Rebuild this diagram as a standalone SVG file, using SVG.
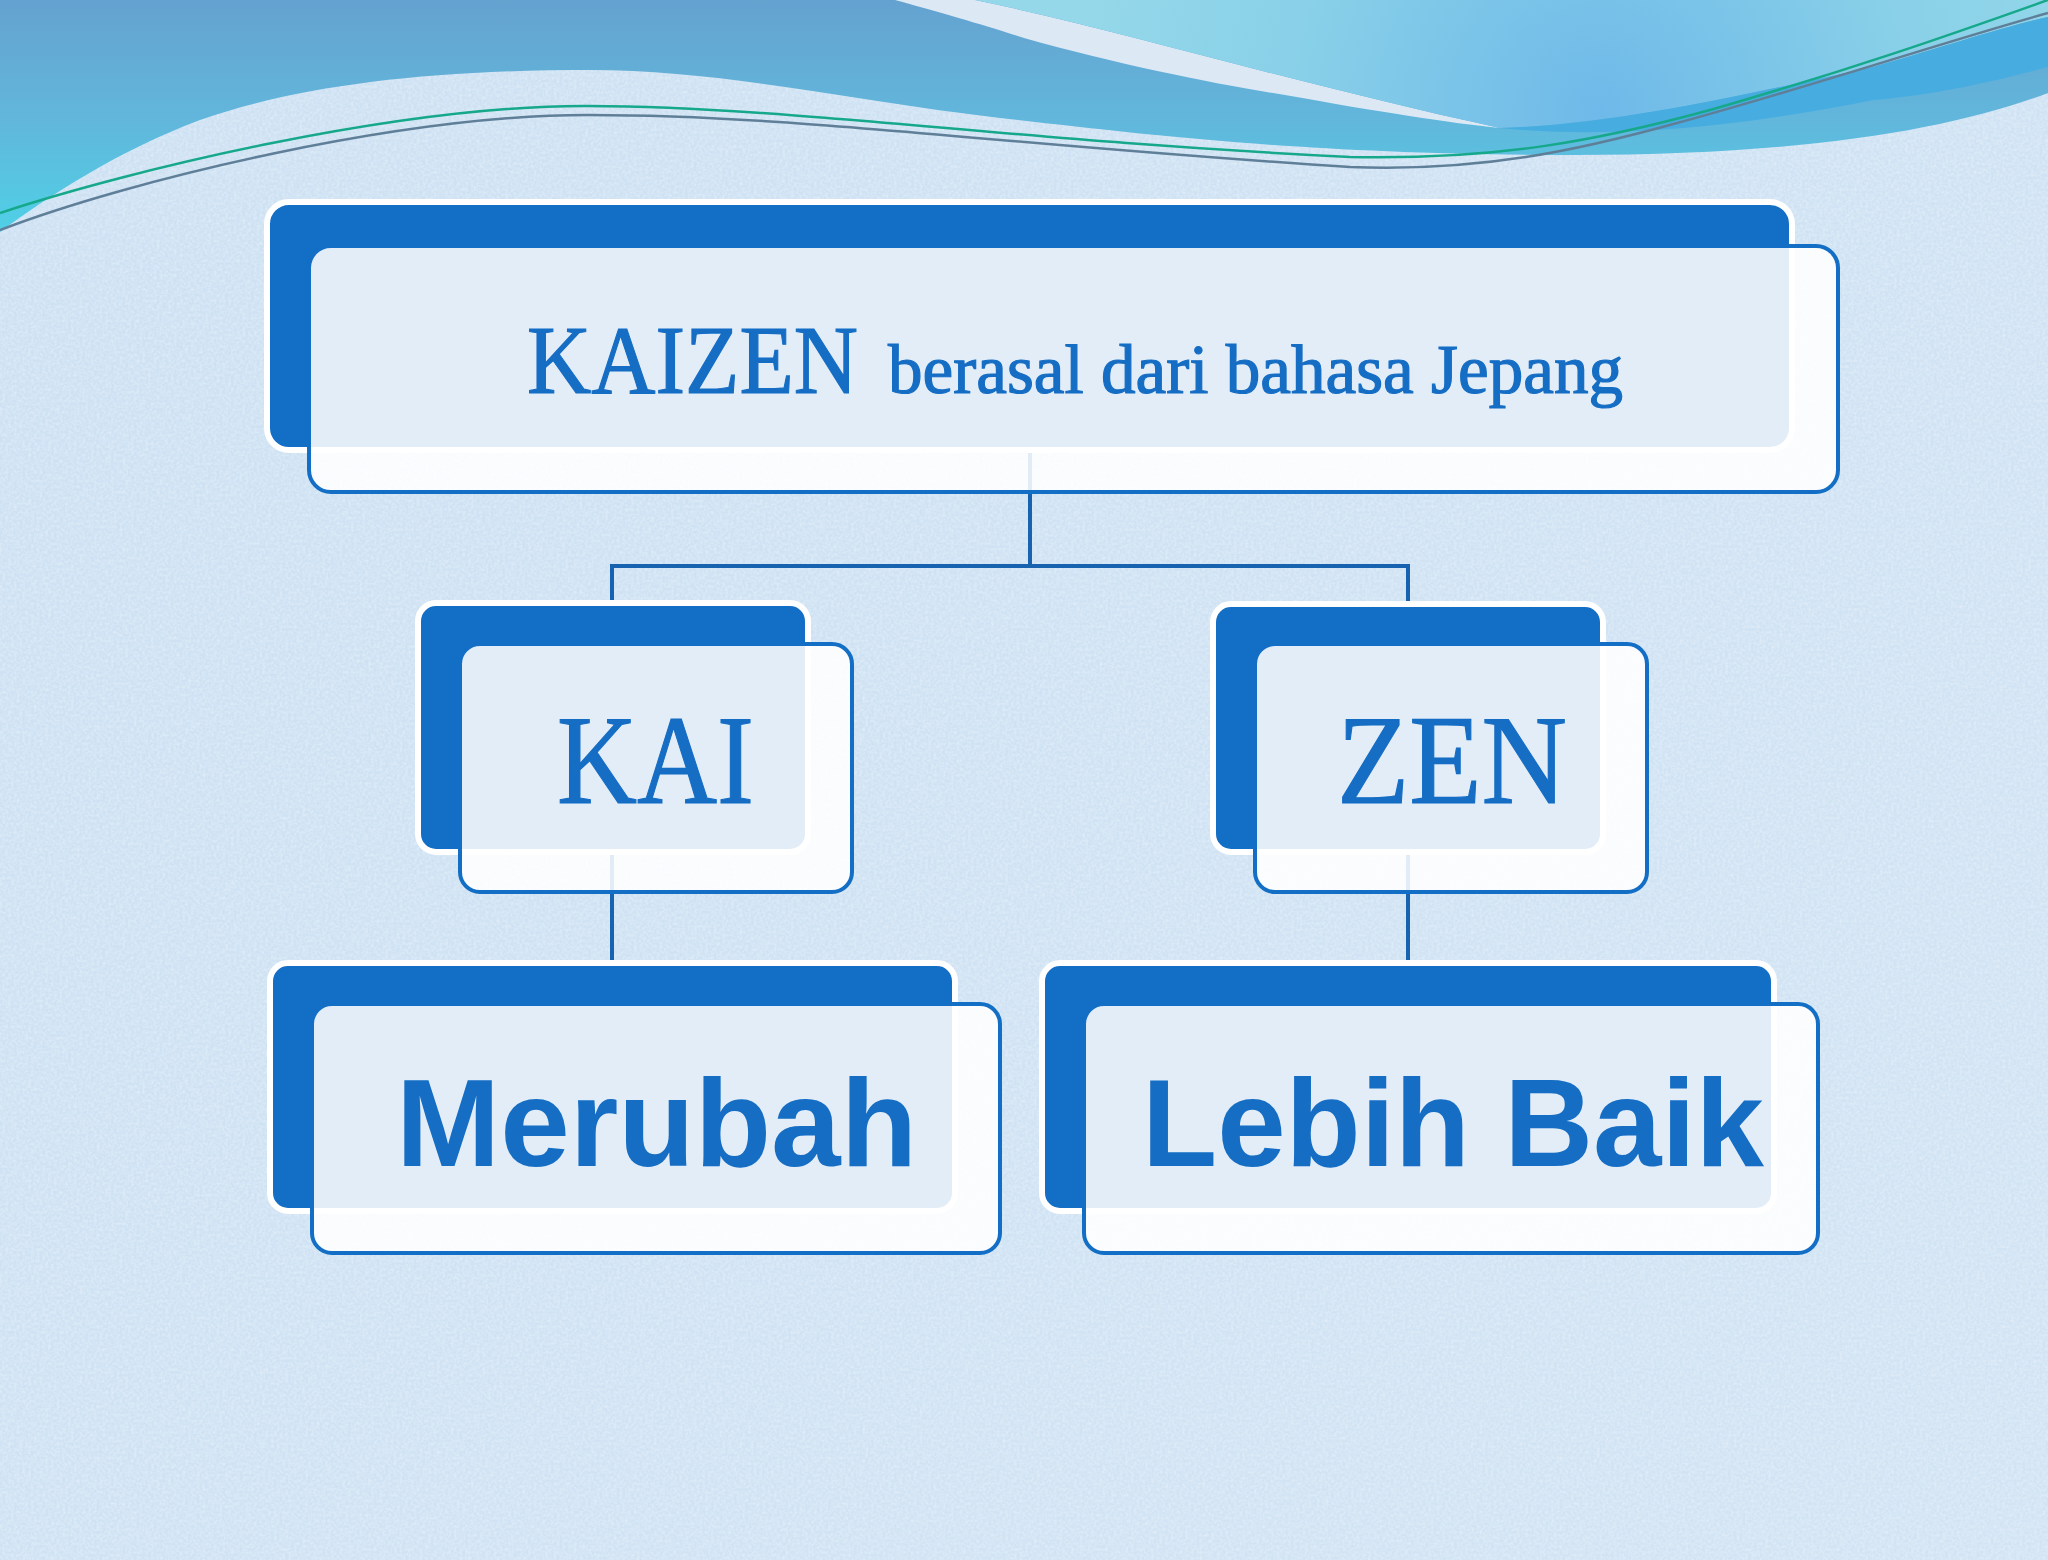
<svg xmlns="http://www.w3.org/2000/svg" width="2048" height="1560" viewBox="0 0 2048 1560">
  <defs>
    <linearGradient id="bgGrad" x1="0" y1="0" x2="1" y2="1">
      <stop offset="0" stop-color="#cde1f3"/>
      <stop offset="1" stop-color="#d2e4f4"/>
    </linearGradient>
    <linearGradient id="waveA" x1="0" y1="0" x2="0" y2="232" gradientUnits="userSpaceOnUse">
      <stop offset="0" stop-color="#64a2d0"/>
      <stop offset="0.5" stop-color="#62b6db"/>
      <stop offset="1" stop-color="#4fd0e6"/>
    </linearGradient>
    <radialGradient id="waveB" cx="1600" cy="110" r="520" gradientUnits="userSpaceOnUse">
      <stop offset="0" stop-color="#6eb9e9"/>
      <stop offset="0.6" stop-color="#89d0e8"/>
      <stop offset="1" stop-color="#94d8e9"/>
    </radialGradient>
    <filter id="noise" x="0" y="0" width="100%" height="100%">
      <feTurbulence type="fractalNoise" baseFrequency="0.35" numOctaves="2" seed="4" result="n"/>
      <feColorMatrix in="n" type="matrix" values="0 0 0 0 1  0 0 0 0 1  0 0 0 0 1  0 0 0 -1.6 1.05" />
    </filter>
    <style>
      .back { fill: #136ec5; stroke: #ffffff; stroke-width: 6; }
      .front { fill: #ffffff; fill-opacity: 0.88; stroke: #136ec5; stroke-width: 4; }
      .conn { fill: none; stroke: #1763b0; stroke-width: 4; }
      .serif { font-family: "Liberation Serif", "Times New Roman", serif; fill: #156dc4; stroke: #156dc4; stroke-width: 1.2; }
      .sans { font-family: "Liberation Sans", Arial, sans-serif; font-weight: bold; fill: #156dc4; }
    </style>
  </defs>

  <!-- background -->
  <rect x="0" y="0" width="2048" height="1560" fill="url(#bgGrad)"/>
  <rect x="0" y="0" width="2048" height="1560" filter="url(#noise)" opacity="0.4"/>

  <!-- top waves -->
  <path d="M0,0 H2048 V93 C1950,130 1800,156 1560,155 C1300,154 1150,135 1000,118 C850,100 720,70 590,70 C430,70 300,85 200,120 C120,150 50,195 0,232 Z" fill="url(#waveA)"/>
  <path d="M895,0 C950,15 1000,30 1024,38 C1120,65 1220,85 1285,95 C1380,112 1450,123 1500,128 C1300,85 1120,30 975,0 Z" fill="#dce9f5"/>
  <path d="M975,0 C1120,30 1300,85 1500,128 C1600,125 1700,105 1873,67 C1950,45 2000,28 2048,17 V0 Z" fill="url(#waveB)"/>
  <path d="M1500,128 C1600,125 1700,105 1873,67 C1950,45 2000,28 2048,17 V67 C1980,85 1930,95 1873,100 C1750,125 1620,140 1500,128 Z" fill="#47ade0"/>
  <path d="M0,213 C130,170 400,105 588,106 C800,107 1000,140 1350,157 C1500,160 1600,140 1710,110 C1850,70 1950,35 2048,0" fill="none" stroke="#16a88a" stroke-width="2.5"/>
  <path d="M0,230 C130,180 400,115 588,115 C800,115 1000,145 1350,167 C1480,172 1580,150 1677,123 C1800,90 1950,40 2048,13" fill="none" stroke="#5f7f99" stroke-width="2.5"/>

  <!-- connectors -->
  <g id="connectors">
    <path class="conn" d="M1030,447 V566"/>
    <path class="conn" d="M612,606 V566 H1408 V606"/>
    <path class="conn" d="M612,849 V966"/>
    <path class="conn" d="M1408,849 V966"/>
  </g>

  <!-- nodes -->
  <g id="node-kaizen">
    <rect class="back" x="267" y="202" width="1525" height="248" rx="22"/>
    <rect class="front" x="309" y="246" width="1529" height="246" rx="22"/>
    <text class="serif" y="393"><tspan x="527" font-size="98" textLength="331" lengthAdjust="spacingAndGlyphs">KAIZEN</tspan><tspan x="888" font-size="69" textLength="735" lengthAdjust="spacingAndGlyphs">berasal dari bahasa Jepang</tspan></text>
  </g>

  <g id="node-kai">
    <rect class="back" x="418" y="603" width="390" height="249" rx="18"/>
    <rect class="front" x="460" y="644" width="392" height="248" rx="20"/>
    <text class="serif" x="557" y="803" font-size="128" textLength="197" lengthAdjust="spacingAndGlyphs">KAI</text>
  </g>

  <g id="node-zen">
    <rect class="back" x="1213" y="604" width="390" height="248" rx="18"/>
    <rect class="front" x="1255" y="644" width="392" height="248" rx="20"/>
    <text class="serif" x="1337" y="803" font-size="128" textLength="230" lengthAdjust="spacingAndGlyphs">ZEN</text>
  </g>

  <g id="node-merubah">
    <rect class="back" x="270" y="963" width="685" height="248" rx="18"/>
    <rect class="front" x="312" y="1004" width="688" height="249" rx="20"/>
    <text class="sans" x="396" y="1166" font-size="125" textLength="521" lengthAdjust="spacingAndGlyphs">Merubah</text>
  </g>

  <g id="node-lebih-baik">
    <rect class="back" x="1042" y="963" width="732" height="248" rx="18"/>
    <rect class="front" x="1084" y="1004" width="734" height="249" rx="20"/>
    <text class="sans" x="1142" y="1166" font-size="125" textLength="622" lengthAdjust="spacingAndGlyphs">Lebih Baik</text>
  </g>
</svg>
